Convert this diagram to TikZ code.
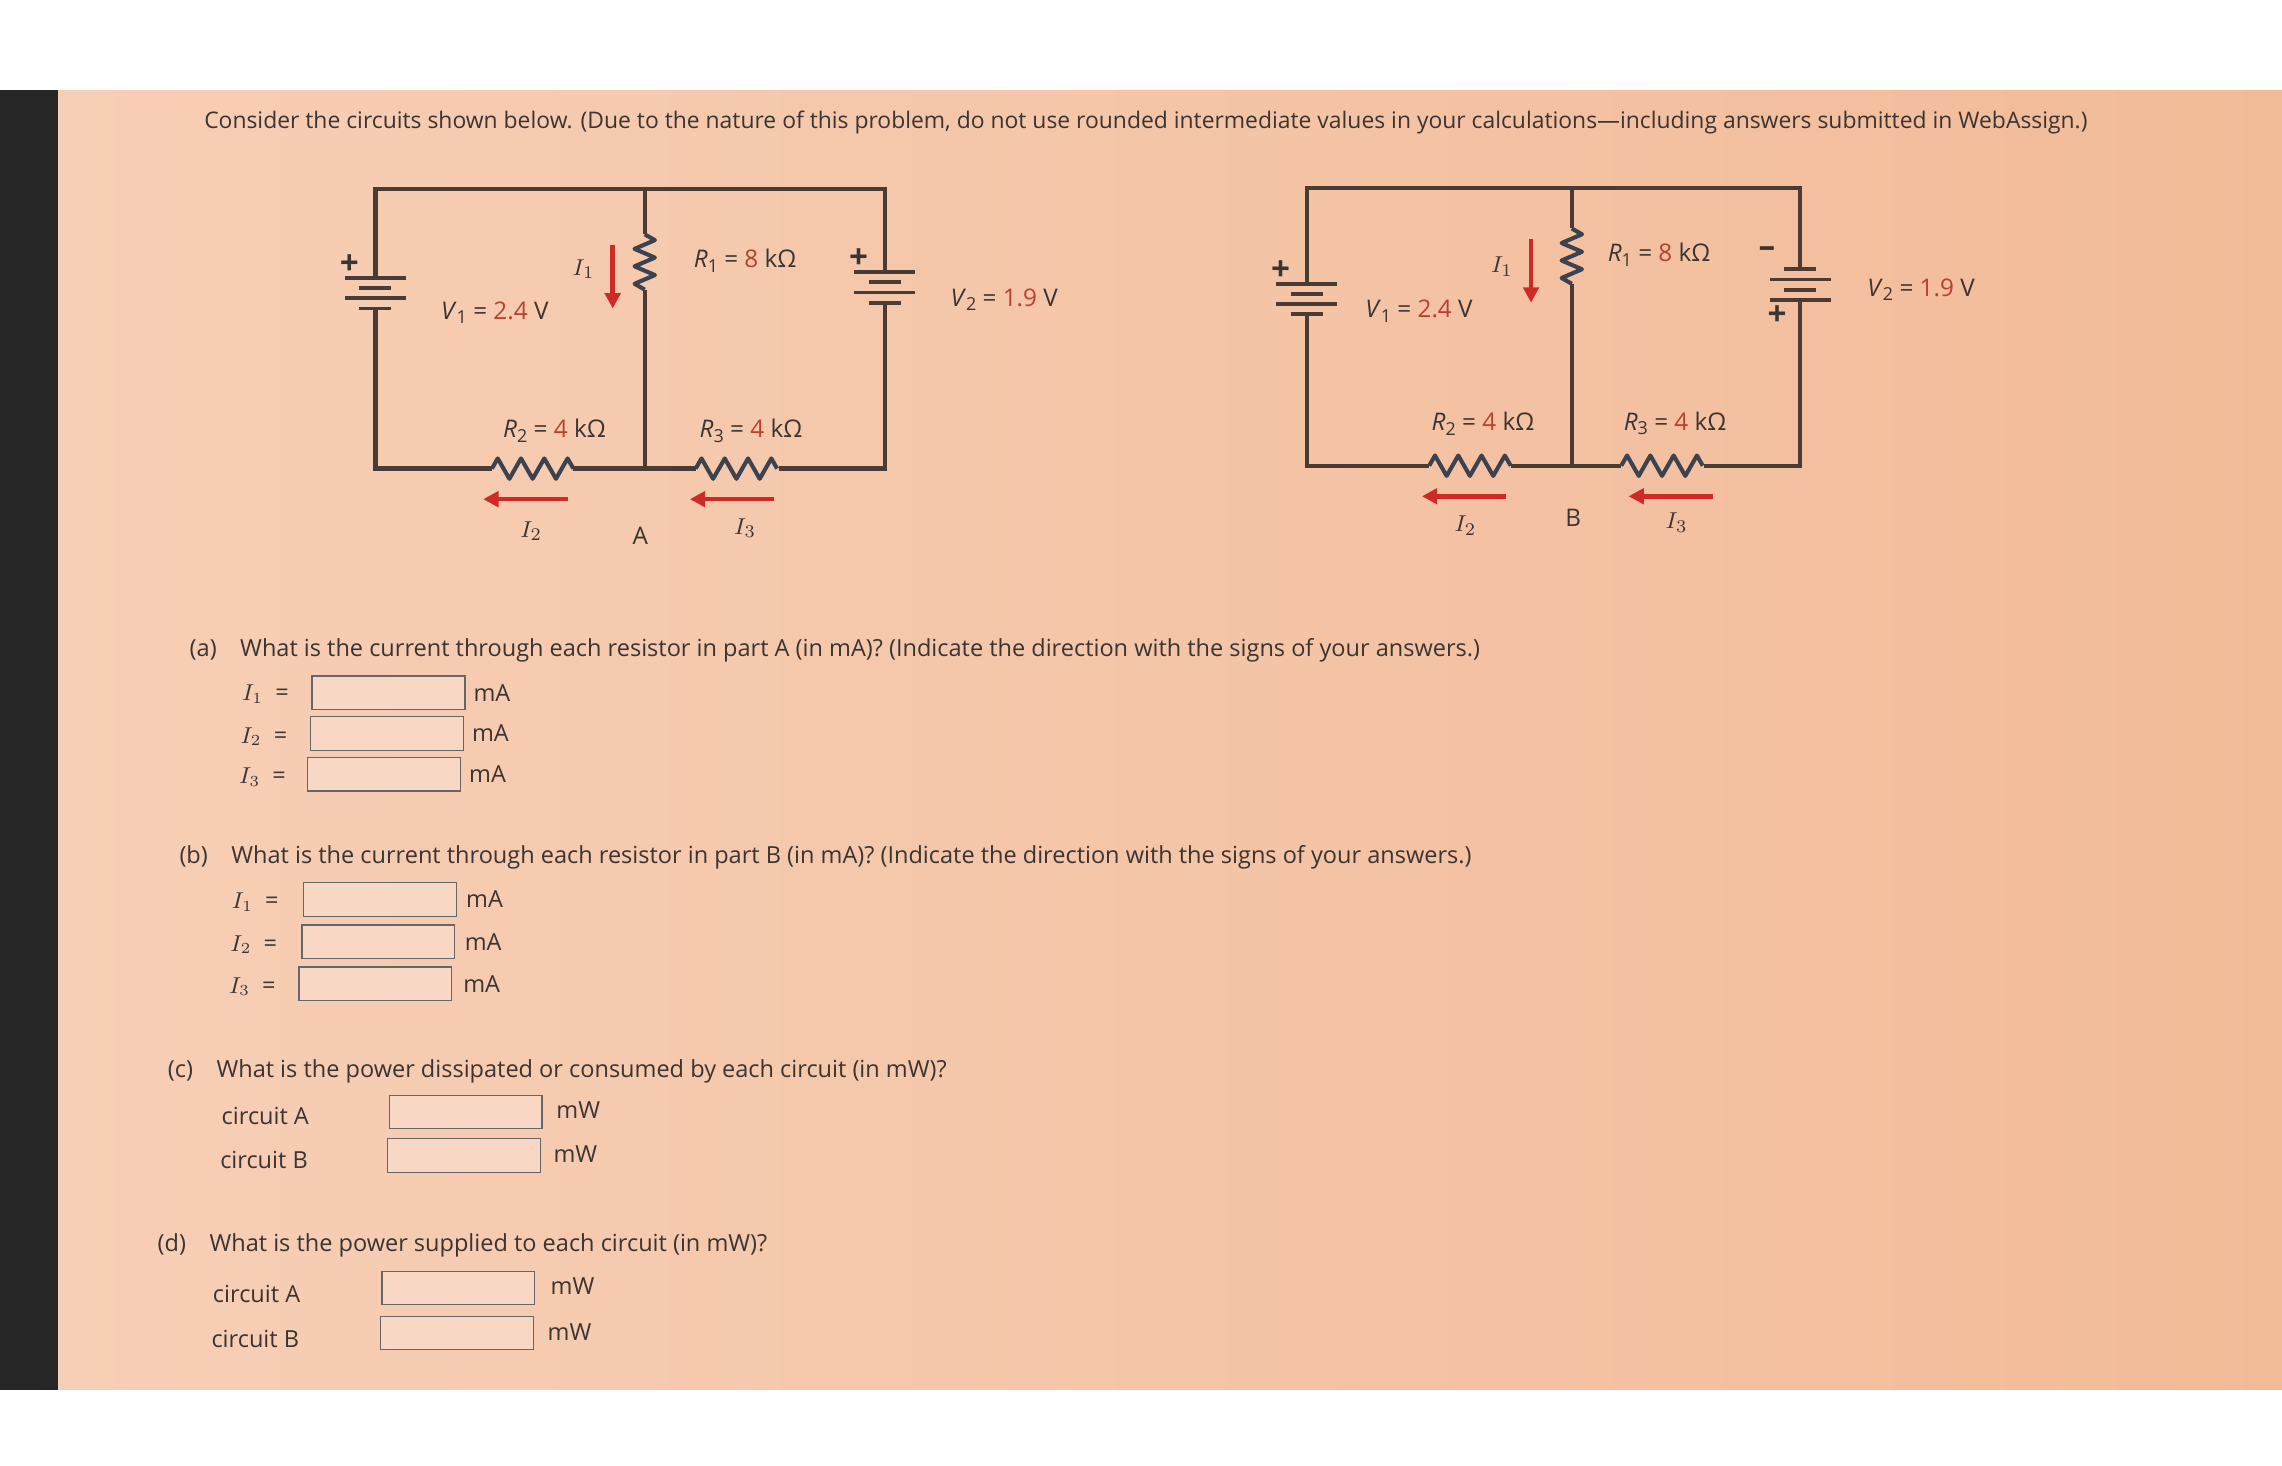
\documentclass[tikz,border=0pt]{standalone}
\usepackage{fontspec}
\setmainfont{Open Sans}
\usetikzlibrary{arrows.meta}
\definecolor{wire}{HTML}{4A3B35}
\definecolor{resc}{HTML}{3C4250}
\definecolor{txt}{HTML}{3A3433}
\definecolor{num}{HTML}{B8402F}
\definecolor{redarr}{HTML}{D02A26}
\definecolor{peachL}{HTML}{F7CFB6}
\definecolor{peachR}{HTML}{F2BB98}
\definecolor{boxf}{HTML}{F8D8C4}
\tikzset{
 w/.style={draw=wire,line width=1.7pt},
 pl/.style={draw=wire,line width=1.5pt},
 rs/.style={draw=resc,line width=1.6pt,line join=round},
 lbl/.style={text=txt,font=\fontsize{9.5}{11}\selectfont,inner sep=0pt},
 q/.style={text=txt,font=\fontsize{9.2}{11}\selectfont,inner sep=0pt,anchor=west},
 ans/.style={draw=gray!80!black,fill=boxf,line width=0.5pt,minimum width=2.1cm,minimum height=0.46cm,inner sep=0pt,anchor=west},
 rarr/.style={draw=redarr,line width=1.8pt,-{Triangle[length=6pt,width=6pt]}},
}
\newcommand{\nm}[1]{\textcolor{num}{#1}}
\newcommand{\batt}[3]{% x, ytop, flip
 \ifnum#3=0
 \draw[pl] (#1-21,#2) -- (#1+21,#2);
 \draw[pl] (#1-11,#2+7) -- (#1+11,#2+7);
 \draw[pl] (#1-21,#2+14) -- (#1+21,#2+14);
 \draw[pl] (#1-11,#2+21) -- (#1+11,#2+21);
 \node[lbl,font=\bfseries\fontsize{13}{13}\selectfont] at (#1-18,#2-9) {+};
 \else
 \draw[pl] (#1-11,#2) -- (#1+11,#2);
 \draw[pl] (#1-21,#2+7) -- (#1+21,#2+7);
 \draw[pl] (#1-11,#2+14) -- (#1+11,#2+14);
 \draw[pl] (#1-21,#2+21) -- (#1+21,#2+21);
 \node[lbl,font=\bfseries\fontsize{13}{13}\selectfont] at (#1-23,#2-12) {--};
 \node[lbl,font=\bfseries\fontsize{13}{13}\selectfont] at (#1-16,#2+32) {+};
 \fi}
\newcommand{\vres}[2]{\draw[rs] (#1,#2) -- (#1+7,#2+4) -- (#1-7,#2+10) -- (#1+7,#2+16) -- (#1-7,#2+22) -- (#1+7,#2+28) -- (#1-7,#2+34) -- (#1,#2+38);}
\newcommand{\hres}[2]{\draw[rs] (#1,#2) -- (#1+4,#2-7) -- (#1+12,#2+7) -- (#1+20,#2-7) -- (#1+28,#2+7) -- (#1+36,#2-7) -- (#1+44,#2+7) -- (#1+52,#2-7) -- (#1+56,#2);}
\begin{document}
\begin{tikzpicture}[x=0.02cm,y=-0.02cm]
\useasboundingbox (0,0) rectangle (1568,1007);
\fill[white] (0,0) rectangle (1568,1007);
\shade[left color=peachL,right color=peachR] (40,62) rectangle (1568,955);
\fill[black!85] (0,62) rectangle (40,955);
\node[q,font=\fontsize{8.95}{11}\selectfont] (title) at (140,84) {Consider the circuits shown below. (Due to the nature of this problem, do not use rounded intermediate values in your calculations---including answers submitted in WebAssign.)};
% circuit A
\draw[w] (258,191) -- (258,130) -- (608,130) -- (608,187);
\draw[w] (608,208) -- (608,322) -- (535,322);
\draw[w] (443,130) -- (443,161);
\draw[w] (443,199) -- (443,322);
\draw[w] (258,212) -- (258,322) -- (338,322);
\draw[w] (394,322) -- (478,322);
\batt{258}{191}{0}
\batt{608}{187}{0}
\vres{443}{161}
\hres{338}{322}
\hres{478}{322}
\draw[rarr] (421,168) -- (421,212);
\draw[rarr] (390,343) -- (332,343);
\draw[rarr] (532,343) -- (474,343);
\node[lbl] (v1a) at (340,215) {\textit{V}\raisebox{-0.35ex}{\scriptsize 1} = \nm{2.4} V};
\node[lbl] (i1a) at (401,185) {$I_1$};
\node[lbl] (r1a) at (512,179) {\textit{R}\raisebox{-0.35ex}{\scriptsize 1} = \nm{8} kΩ};
\node[lbl] (v2a) at (690,206) {\textit{V}\raisebox{-0.35ex}{\scriptsize 2} = \nm{1.9} V};
\node[lbl] (r2a) at (381,296) {\textit{R}\raisebox{-0.35ex}{\scriptsize 2} = \nm{4} kΩ};
\node[lbl] (r3a) at (516,296) {\textit{R}\raisebox{-0.35ex}{\scriptsize 3} = \nm{4} kΩ};
\node[lbl] (i2a) at (365,365) {$I_2$};
\node[lbl] (lA) at (440,368) {A};
\node[lbl] (i3a) at (512,363) {$I_3$};
% circuit B
\draw[w] (898,195) -- (898,129) -- (1237,129) -- (1237,185);
\draw[w] (1237,206) -- (1237,320) -- (1171,320);
\draw[w] (1080,129) -- (1080,157);
\draw[w] (1080,195) -- (1080,320);
\draw[w] (898,216) -- (898,320) -- (982,320);
\draw[w] (1038,320) -- (1114,320);
\batt{898}{195}{0}
\batt{1237}{185}{1}
\vres{1080}{157}
\hres{982}{320}
\hres{1114}{320}
\draw[rarr] (1052,164) -- (1052,208);
\draw[rarr] (1035,341) -- (977,341);
\draw[rarr] (1177,341) -- (1119,341);
\node[lbl] (v1b) at (975,214) {\textit{V}\raisebox{-0.35ex}{\scriptsize 1} = \nm{2.4} V};
\node[lbl] (i1b) at (1032,183) {$I_1$};
\node[lbl] (r1b) at (1140,175) {\textit{R}\raisebox{-0.35ex}{\scriptsize 1} = \nm{8} kΩ};
\node[lbl] (v2b) at (1320,199) {\textit{V}\raisebox{-0.35ex}{\scriptsize 2} = \nm{1.9} V};
\node[lbl] (r2b) at (1019,291) {\textit{R}\raisebox{-0.35ex}{\scriptsize 2} = \nm{4} kΩ};
\node[lbl] (r3b) at (1151,291) {\textit{R}\raisebox{-0.35ex}{\scriptsize 3} = \nm{4} kΩ};
\node[lbl] (i2b) at (1007,361) {$I_2$};
\node[lbl] (lB) at (1081,356) {B};
\node[lbl] (i3b) at (1152,359) {$I_3$};
% questions
\node[q] (qa) at (130,447) {(a)\quad What is the current through each resistor in part A (in mA)? (Indicate the direction with the signs of your answers.)};
\node[q] (a1) at (166,477) {$I_1$\ \ =};
\node[ans] (ba1) at (214,476) {}; \node[q] at (325,476) {mA};
\node[q] (a2) at (165,506) {$I_2$\ \ =};
\node[ans] (ba2) at (213,504) {}; \node[q] at (324,504) {mA};
\node[q] (a3) at (164,534) {$I_3$\ \ =};
\node[ans] (ba3) at (211,532) {}; \node[q] at (322,532) {mA};
\node[q] (qb) at (123,589) {(b)\quad What is the current through each resistor in part B (in mA)? (Indicate the direction with the signs of your answers.)};
\node[q] (b1) at (159,620) {$I_1$\ \ =};
\node[ans] (bb1) at (208,618) {}; \node[q] at (320,618) {mA};
\node[q] (b2) at (158,649) {$I_2$\ \ =};
\node[ans] (bb2) at (207,647) {}; \node[q] at (319,647) {mA};
\node[q] (b3) at (157,678) {$I_3$\ \ =};
\node[ans] (bb3) at (205,676) {}; \node[q] at (318,676) {mA};
\node[q] (qc) at (115,736) {(c)\quad What is the power dissipated or consumed by each circuit (in mW)?};
\node[q] (c1) at (152,767) {circuit A};
\node[ans] (bc1) at (267,764) {}; \node[q] at (382,763) {mW};
\node[q] (c2) at (151,797) {circuit B};
\node[ans] (bc2) at (266,794) {}; \node[q] at (380,793) {mW};
\node[q] (qd) at (108,856) {(d)\quad What is the power supplied to each circuit (in mW)?};
\node[q] (d1) at (146,889) {circuit A};
\node[ans] (bd1) at (262,885) {}; \node[q] at (378,884) {mW};
\node[q] (d2) at (145,920) {circuit B};
\node[ans] (bd2) at (261,916) {}; \node[q] at (376,915) {mW};
\end{tikzpicture}
\end{document}
